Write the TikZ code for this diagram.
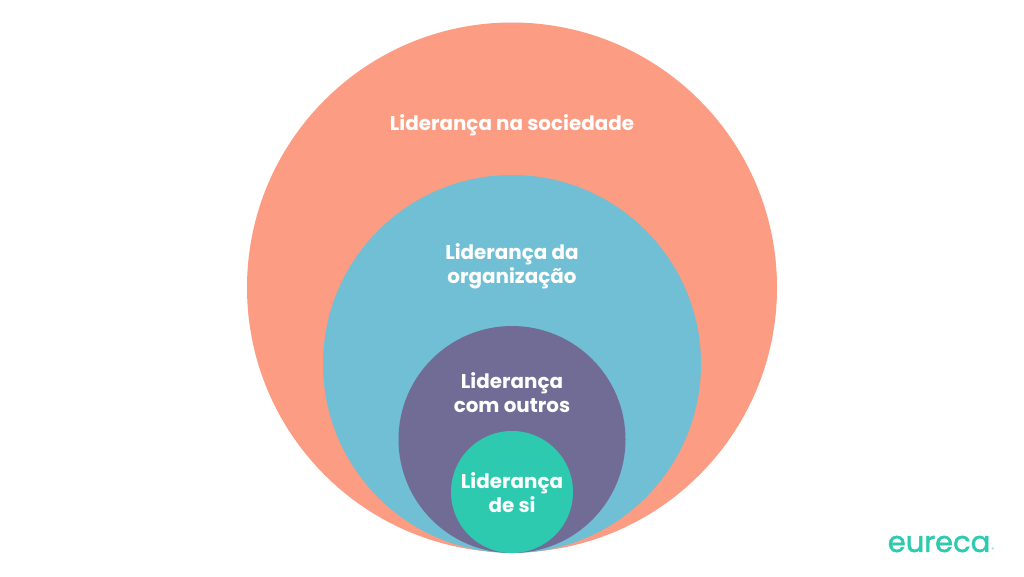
\documentclass[tikz,border=0pt]{standalone}
\usepackage{fontspec}
\setmainfont{Poppins}
\newfontfamily\logofont[FakeBold=1.6]{Poppins}
\usepackage{tikz}
\usetikzlibrary{positioning}
\definecolor{salmon}{HTML}{FC9C82}
\definecolor{skyblue}{HTML}{71BFD5}
\definecolor{dusk}{HTML}{716C95}
\definecolor{mint}{HTML}{2DCAB0}
\tikzset{
    ring/.style={circle, inner sep=0pt, outer sep=0pt},
    ringlabel/.style={text=white, align=center, font=\fontsize{19.9}{24}\selectfont\bfseries},
}

\begin{document}
\begin{tikzpicture}[x=1pt,y=-1pt]
   \useasboundingbox (0,0) rectangle (1024,576);
   \fill[white] (0,0) rectangle (1024,576);
   \node[ring, fill=salmon, minimum size=530pt] (society) at (512,287.5) {};
   \node[ring, fill=skyblue, minimum size=378pt] (organization) at (512,364) {};
   \node[ring, fill=dusk, minimum size=227pt] (others) at (512,439.5) {};
   \node[ring, fill=mint, minimum size=122pt] (self) at (512,492) {};
   \node[ringlabel] (society_text) at (512,125) {Liderança na sociedade};
   \node[ringlabel] (organization_text) at (512,266) {Liderança da\\organização};
   \node[ringlabel] (others_text) at (512,393) {Liderança\\com outros};
   \node[ringlabel] (self_text) at (512,493) {Liderança\\de si};
   \node[text=mint, font=\logofont\fontsize{29}{29}\selectfont, inner sep=0pt] (logo) at (939,544) {eureca};
   \node[text=mint, font=\fontsize{5}{5}\selectfont, inner sep=0pt, right=1pt of logo.base east, anchor=base west] (logo_mark) {®};
\end{tikzpicture}
\end{document}
